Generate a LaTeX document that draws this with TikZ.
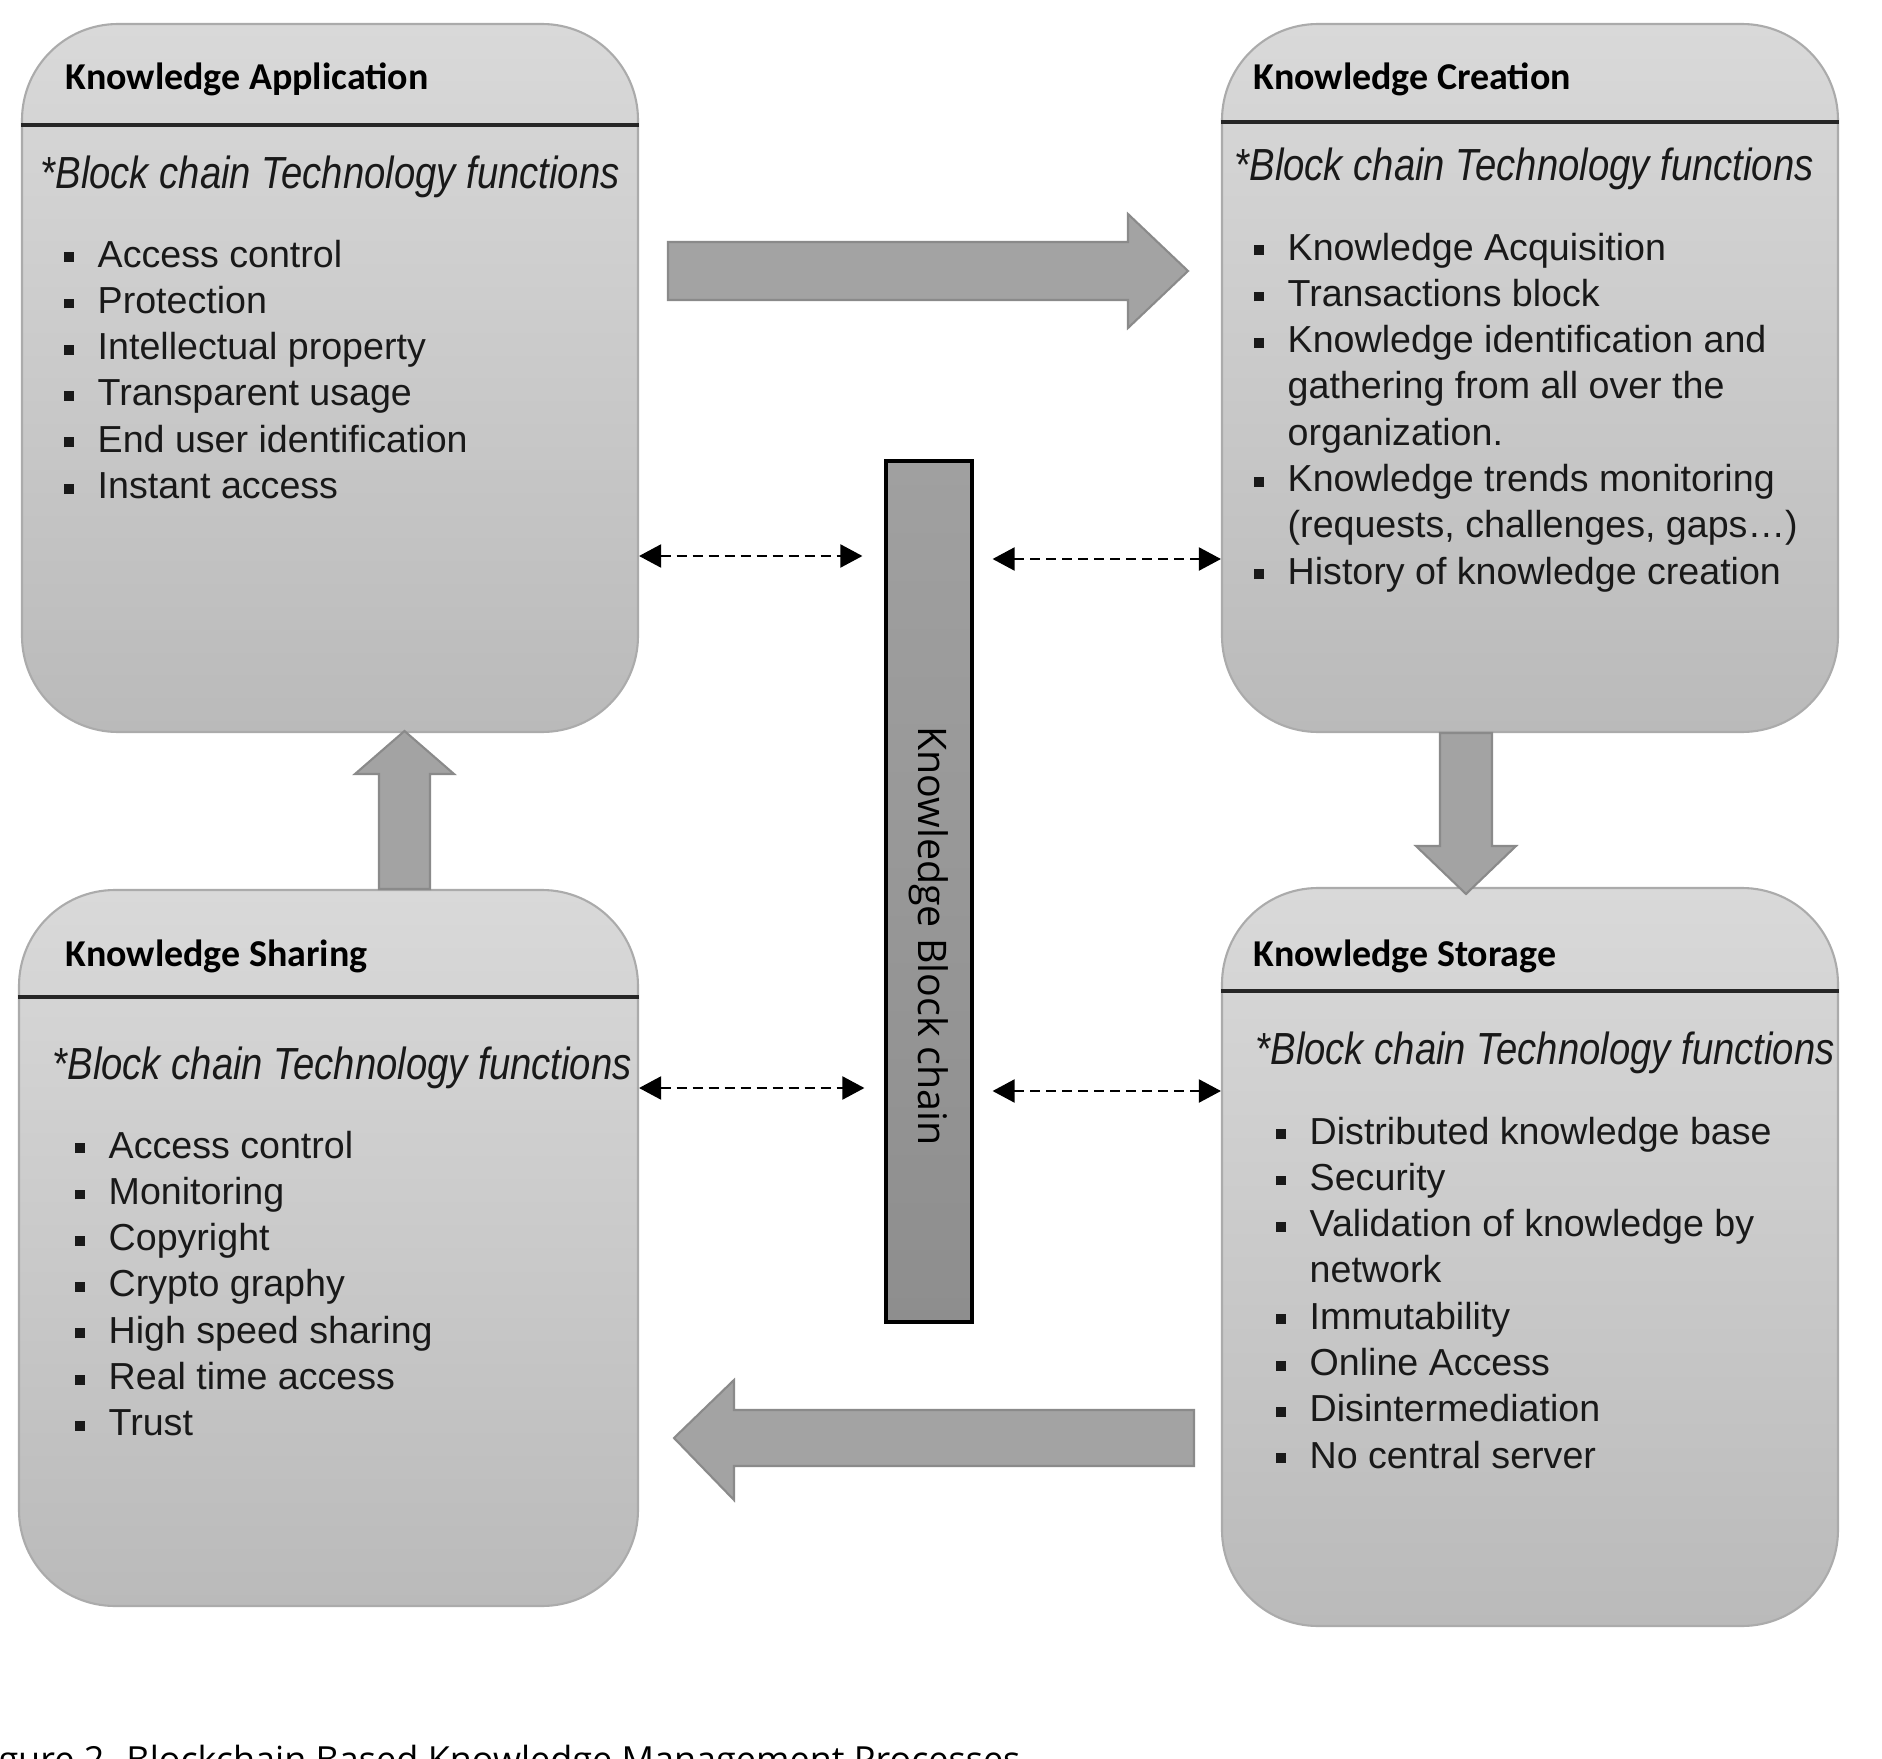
\documentclass[tikz,border=0pt]{standalone}
\usepackage{fontspec}
\setmainfont{Liberation Sans}
\newfontfamily\headfont{Carlito}
\newfontfamily\notefont{Liberation Sans}[FakeStretch=0.85]
\newfontfamily\barfont{Open Sans}
\usetikzlibrary{arrows.meta}

\definecolor{boxtop}{HTML}{D9D9D9}
\definecolor{boxbot}{HTML}{BABABA}
\definecolor{boxline}{HTML}{ABABAB}
\definecolor{arrfill}{HTML}{A3A3A3}
\definecolor{arrline}{HTML}{8A8A8A}
\definecolor{bartop}{HTML}{A0A0A0}
\definecolor{barbot}{HTML}{8E8E8E}

% square bullet hanging left of the item text
\newcommand{\bl}{\llap{\rule[1.4pt]{2.8pt}{2.8pt}\hspace{6.8pt}}}

\tikzset{
  kbox/.style={draw=boxline, line width=0.6pt, rounded corners=9.6mm,
    top color=boxtop, bottom color=boxbot, inner sep=0pt},
  hdline/.style={line width=0.9pt, black!85},
  boxtitle/.style={anchor=base west, inner sep=0pt,
    font=\headfont\bfseries\fontsize{10.8}{13}\selectfont},
  boxnote/.style={anchor=base west, inner sep=0pt,
    font=\notefont\itshape\fontsize{12.8}{15}\selectfont, text=black!90},
  itm/.style={anchor=base west, inner sep=0pt,
    font=\fontsize{10.7}{13}\selectfont, text=black!90},
  bigarr/.style={fill=arrfill, draw=arrline, line width=0.6pt},
  chainbar/.style={draw=black, line width=0.9pt, top color=bartop,
    bottom color=barbot, inner sep=0pt},
  linkarr/.style={{Triangle[length=2.2mm,width=2.3mm]}-{Triangle[length=2.2mm,width=2.3mm]},
    dash pattern=on 1mm off 0.6mm, line width=0.6pt}
}

\begin{document}
\begin{tikzpicture}[x=0.1mm, y=-0.1mm]
\useasboundingbox (0,0) rectangle (1882,1759);

% the four process boxes
\node[kbox, minimum width=61.6mm, minimum height=70.8mm] (ka) at (330,378) {};
\node[kbox, minimum width=61.6mm, minimum height=70.8mm] (kc) at (1530,378) {};
\node[kbox, minimum width=61.9mm, minimum height=71.6mm] (ks) at (328.5,1248) {};
\node[kbox, minimum width=61.6mm, minimum height=73.8mm] (kst) at (1530,1257) {};

\draw[hdline] (ka.west |- 0,125) -- (ka.east |- 0,125);
\draw[hdline] (kc.west |- 0,122) -- (kc.east |- 0,122);
\draw[hdline] (ks.west |- 0,997) -- (ks.east |- 0,997);
\draw[hdline] (kst.west |- 0,991) -- (kst.east |- 0,991);

\node[boxtitle] (ka-t) at (65,90) {Knowledge Application};
\node[boxtitle] (kc-t) at (1253,90) {Knowledge Creation};
\node[boxtitle] (ks-t) at (65,966) {Knowledge Sharing};
\node[boxtitle] (kst-t) at (1253,966) {Knowledge Storage};

\node[boxnote] (ka-n) at (40,188) {*Block chain Technology functions};
\node[boxnote] (kc-n) at (1234,180) {*Block chain Technology functions};
\node[boxnote] (ks-n) at (52,1079) {*Block chain Technology functions};
\node[boxnote] (kst-n) at (1255,1064) {*Block chain Technology functions};

\foreach \t [count=\i from 0] in {\bl Access control, \bl Protection,
    \bl Intellectual property, \bl Transparent usage,
    \bl End user identification, \bl Instant access}
  \node[itm] (ka-\i) at (97,{267+46.3*\i}) {\t};

\foreach \t [count=\i from 0] in {\bl Knowledge Acquisition, \bl Transactions block,
    \bl Knowledge identification and, gathering from all over the, organization.,
    \bl Knowledge trends monitoring, {(requests, challenges, gaps…)},
    \bl History of knowledge creation}
  \node[itm] (kc-\i) at (1287,{260+46.3*\i}) {\t};

\foreach \t [count=\i from 0] in {\bl Access control, \bl Monitoring, \bl Copyright,
    \bl Crypto graphy, \bl High speed sharing, \bl Real time access, \bl Trust}
  \node[itm] (ks-\i) at (108,{1158+46.3*\i}) {\t};

\foreach \t [count=\i from 0] in {\bl Distributed knowledge base, \bl Security,
    \bl Validation of knowledge by, network, \bl Immutability, \bl Online Access,
    \bl Disintermediation, \bl No central server}
  \node[itm] (kst-\i) at (1309,{1144+46.3*\i}) {\t};

% block arrows of the cycle
\filldraw[bigarr] (668,242) -- (1128,242) -- (1128,214) -- (1188,271)
  -- (1128,328) -- (1128,300) -- (668,300) -- cycle;
\filldraw[bigarr] (1440,733) -- (1440,846) -- (1416,846) -- (1466,894)
  -- (1516,846) -- (1492,846) -- (1492,733) -- cycle;
\filldraw[bigarr] (1194,1410) -- (734,1410) -- (734,1380) -- (674,1438)
  -- (734,1500) -- (734,1466) -- (1194,1466) -- cycle;
\filldraw[bigarr] (379,889) -- (379,774) -- (355,774) -- (404.5,731)
  -- (454,774) -- (430,774) -- (430,889) -- cycle;

% the block chain in the middle
\node[chainbar, minimum width=8.6mm, minimum height=86.1mm] (bar) at (929,891.5) {};
\node[rotate=-90, inner sep=0pt, font=\barfont\fontsize{11.2}{13}\selectfont]
  (barlbl) at (929,936) {Knowledge Block chain};

\coordinate (ya) at (0,556);
\coordinate (yc) at (0,559);
\coordinate (ys) at (0,1088);
\coordinate (yst) at (0,1091);
\draw[linkarr, shorten >=2.2mm] (ka.east |- ya) -- (bar.west |- ya);
\draw[linkarr, shorten <=1.9mm] (bar.east |- yc) -- (kc.west |- yc);
\draw[linkarr, shorten >=2.0mm] (ks.east |- ys) -- (bar.west |- ys);
\draw[linkarr, shorten <=1.9mm] (bar.east |- yst) -- (kst.west |- yst);

% caption, cut off by the page edge
\begin{scope}
\clip (0,0) rectangle (1882,1759);
\node[anchor=base east, inner sep=0pt, font=\barfont\fontsize{10.24}{12}\selectfont]
  (capt) at (1021,1772) {Figure 2. Blockchain Based Knowledge Management Processes};
\end{scope}
\end{tikzpicture}
\end{document}
